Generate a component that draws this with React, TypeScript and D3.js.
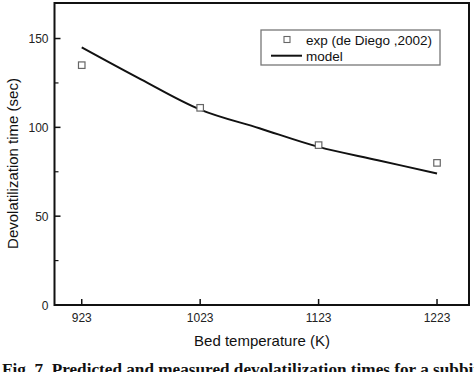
import React, { useEffect, useRef } from "react";
import * as d3 from "d3";

// bed temperature (K) for the experimental points
const expTemps = [923, 1023, 1123, 1223];
const expTimes = [135, 111, 90, 80];

// model curve
const modelTemps = [923, 973, 1023, 1073, 1123, 1173, 1223];
const modelTimes = [145, 127, 110, 99.5, 89, 81.5, 74];

const xTicks = [923, 1023, 1123, 1223];
const yMajor = [0, 50, 100, 150];
const yMinor = [25, 75, 125];

const legendLabels = ["exp (de Diego ,2002)", "model"];
const caption =
  "Fig. 7. Predicted and measured devolatilization times for a subbituminous coal";

const App = () => {
  const ref = useRef<SVGSVGElement>(null);

  useEffect(() => {
    document.body.style.margin = "0";
    const svg = d3.select(ref.current);
    svg.selectAll("*").remove();

    const width = 474, height = 372;
    const margin = { top: 3, right: 5, bottom: 67, left: 54.5 };
    const font = "Liberation Sans, Arial, sans-serif";

    const x = d3.scaleLinear()
      .domain([900, 1250])
      .range([margin.left, width - margin.right]);

    const y = d3.scaleLinear()
      .domain([0, 170])
      .range([height - margin.bottom, margin.top]);

    const y0 = height - margin.bottom;

    // inward ticks
    xTicks.forEach(t => {
      svg.append("line")
        .attr("x1", x(t)).attr("x2", x(t))
        .attr("y1", y0).attr("y2", y0 - 6)
        .attr("stroke", "#111").attr("stroke-width", 1.5);
      svg.append("text")
        .attr("x", x(t)).attr("y", y0 + 17)
        .attr("text-anchor", "middle")
        .attr("font-family", font).attr("font-size", 12)
        .attr("fill", "#222")
        .text(t);
    });

    yMajor.forEach(t => {
      svg.append("line")
        .attr("x1", margin.left).attr("x2", margin.left + 6)
        .attr("y1", y(t)).attr("y2", y(t))
        .attr("stroke", "#111").attr("stroke-width", 1.5);
      svg.append("text")
        .attr("x", margin.left - 6).attr("y", y(t) + 4.5)
        .attr("text-anchor", "end")
        .attr("font-family", font).attr("font-size", 12)
        .attr("fill", "#222")
        .text(t);
    });

    yMinor.forEach(t => {
      svg.append("line")
        .attr("x1", margin.left).attr("x2", margin.left + 4)
        .attr("y1", y(t)).attr("y2", y(t))
        .attr("stroke", "#111").attr("stroke-width", 1.2);
    });

    // frame
    svg.append("rect")
      .attr("x", margin.left).attr("y", margin.top)
      .attr("width", width - margin.right - margin.left)
      .attr("height", y0 - margin.top)
      .attr("fill", "none")
      .attr("stroke", "#111").attr("stroke-width", 2);

    // model line
    const line = d3.line<number>()
      .x((d, i) => x(modelTemps[i]))
      .y(d => y(d))
      .curve(d3.curveCatmullRom);

    svg.append("path")
      .datum(modelTimes)
      .attr("fill", "none")
      .attr("stroke", "#111")
      .attr("stroke-width", 2)
      .attr("d", line);

    // experimental points
    const s = 6.5;
    svg.selectAll("rect.pt")
      .data(expTimes)
      .join("rect")
      .attr("class", "pt")
      .attr("x", (d, i) => x(expTemps[i]) - s / 2)
      .attr("y", d => y(d) - s / 2)
      .attr("width", s).attr("height", s)
      .attr("fill", "white")
      .attr("stroke", "#666").attr("stroke-width", 1.2);

    // legend
    const lg = svg.append("g");
    lg.append("rect")
      .attr("x", 261).attr("y", 30)
      .attr("width", 179).attr("height", 35)
      .attr("fill", "white")
      .attr("stroke", "#777").attr("stroke-width", 1.3);
    lg.append("rect")
      .attr("x", 287 - 3).attr("y", 39.5 - 3)
      .attr("width", 6).attr("height", 6)
      .attr("fill", "white")
      .attr("stroke", "#666").attr("stroke-width", 1.1);
    lg.append("line")
      .attr("x1", 271).attr("x2", 302)
      .attr("y1", 55.7).attr("y2", 55.7)
      .attr("stroke", "#111").attr("stroke-width", 2);
    legendLabels.forEach((l, i) => {
      lg.append("text")
        .attr("x", 306).attr("y", 44.5 + i * 16)
        .attr("font-family", font).attr("font-size", 13.5)
        .attr("fill", "#111")
        .text(l);
    });

    // axis titles
    svg.append("text")
      .attr("x", 262).attr("y", 346)
      .attr("text-anchor", "middle")
      .attr("font-family", font).attr("font-size", 15)
      .attr("fill", "#111")
      .text("Bed temperature (K)");

    svg.append("text")
      .attr("transform", "translate(17.5,163.5) rotate(-90)")
      .attr("text-anchor", "middle")
      .attr("font-family", font).attr("font-size", 15)
      .attr("fill", "#111")
      .text("Devolatilization time (sec)");

    // caption, cut off at the bottom edge like in the source figure
    svg.append("text")
      .attr("x", 2).attr("y", 374.6)
      .attr("font-family", "Liberation Serif, Times New Roman, serif")
      .attr("font-weight", "bold")
      .attr("font-size", 17.2)
      .attr("fill", "#111")
      .text(caption);
  }, []);

  return (
    <svg
      ref={ref}
      width={474}
      height={372}
      style={{ display: "block", position: "absolute", left: 0, top: 0, background: "white" }}
    />
  );
};

export default App;
